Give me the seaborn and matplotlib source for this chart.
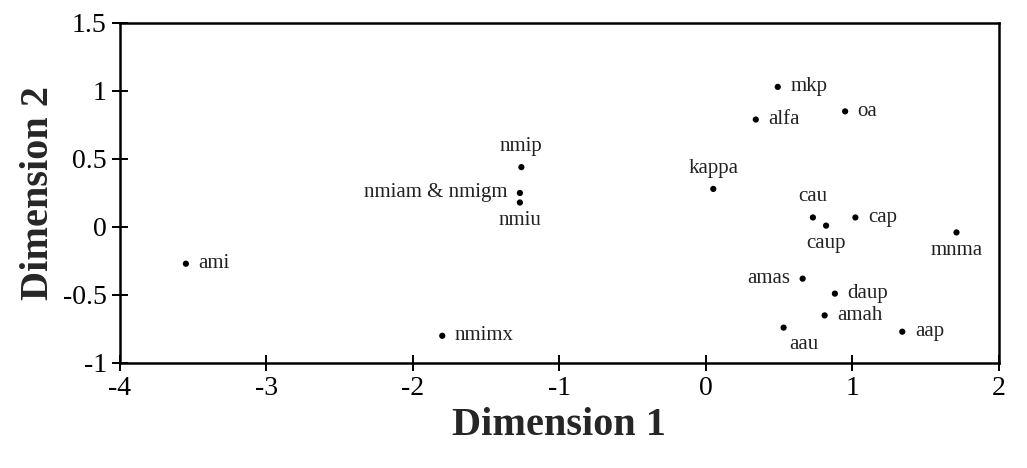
import matplotlib
matplotlib.use("Agg")
import matplotlib.pyplot as plt
import seaborn as sns
import pandas as pd

names = ["ami", "nmimx", "nmip", "nmiam & nmigm", "nmiu", "mkp", "oa", "alfa", "kappa",
         "cau", "caup", "cap", "mnma", "amas", "daup", "amah", "aau", "aap"]
dim1 = [-3.55, -1.80, -1.26, -1.27, -1.27, 0.49, 0.95, 0.34, 0.05,
        0.73, 0.82, 1.02, 1.71, 0.66, 0.88, 0.81, 0.53, 1.34]
dim2 = [-0.27, -0.80, 0.44, 0.25, 0.18, 1.03, 0.85, 0.79, 0.28,
        0.07, 0.01, 0.07, -0.04, -0.38, -0.49, -0.65, -0.74, -0.77]
# label placement: r=right, l=left, a=above, b=below, br=below-right
place = ["r", "r", "a", "l", "b", "r", "r", "r", "a",
         "a", "b", "r", "b", "l", "r", "r", "br", "r"]

df = pd.DataFrame({"Dimension 1": dim1, "Dimension 2": dim2, "name": names})

sns.set_theme(style="white")
plt.rcParams["font.family"] = ["Liberation Serif", "DejaVu Serif"]

fig = plt.figure(figsize=(10.27, 4.68), dpi=100)
ax = fig.add_axes([0.1168, 0.2244, 0.8559, 0.7265])
sns.scatterplot(data=df, x="Dimension 1", y="Dimension 2", ax=ax, color="black",
                s=20, edgecolor="none", legend=False)

offs = {"r": ((9, 0), "left", "center"), "l": ((-9, 0), "right", "center"),
        "a": ((0, 8), "center", "bottom"), "b": ((0, -6), "center", "top"),
        "br": ((4, -5), "left", "top")}
for n, x, y, p in zip(names, dim1, dim2, place):
    (dx, dy), ha, va = offs[p]
    ax.annotate(n, (x, y), xytext=(dx, dy), textcoords="offset points",
                ha=ha, va=va, fontsize=15, color="#222222")

ax.set_xlim(-4, 2)
ax.set_ylim(-1, 1.5)
ax.set_xticks([-4, -3, -2, -1, 0, 1, 2])
ax.set_yticks([-1, -0.5, 0, 0.5, 1, 1.5])
ax.set_yticklabels(["-1", "-0.5", "0", "0.5", "1", "1.5"])
ax.set_xticklabels(["-4", "-3", "-2", "-1", "0", "1", "2"])
ax.tick_params(direction="inout", length=11, width=1.4, colors="black",
               labelsize=20, left=True, bottom=True, pad=4)
for s in ax.spines.values():
    s.set_color("black")
    s.set_linewidth(1.8)
ax.set_xlabel("Dimension 1", fontsize=29, fontweight="bold", labelpad=4)
ax.set_ylabel("Dimension 2", fontsize=29, fontweight="bold", labelpad=4)
ax.grid(False)

fig.savefig("out.png", dpi=100)
